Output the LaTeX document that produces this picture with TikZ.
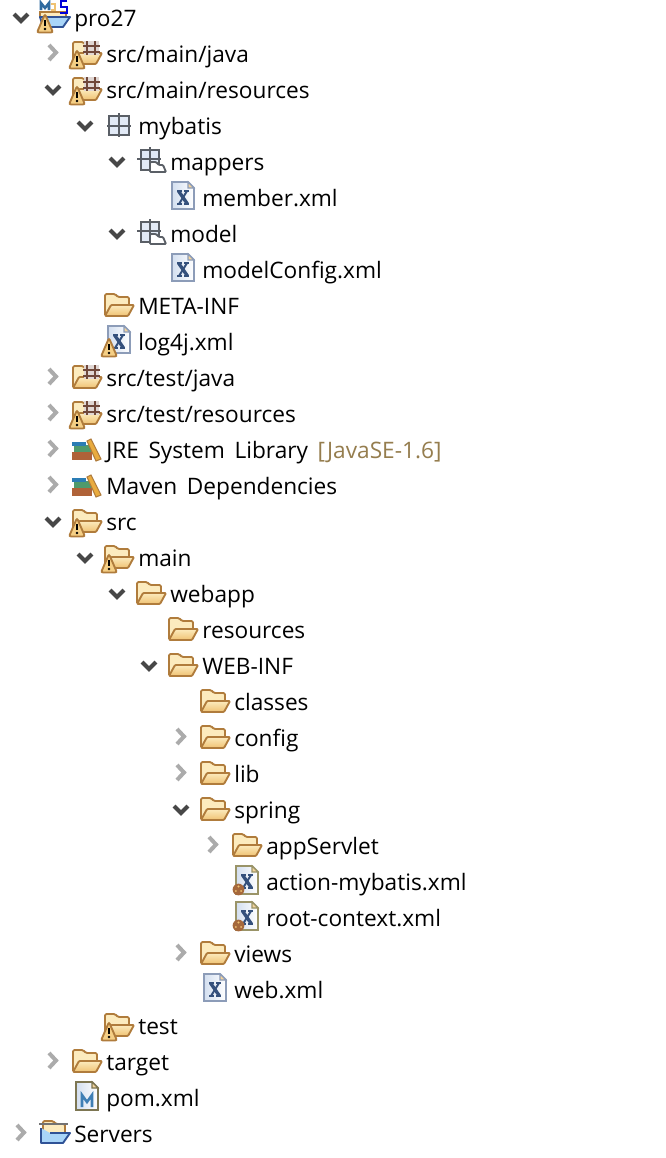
\documentclass[tikz,border=0pt]{standalone}
\usepackage{fontspec}
\setmainfont{Open Sans}
\definecolor{foldline}{HTML}{B07C3C}
\definecolor{foldlight}{HTML}{FCEBBE}
\definecolor{folddark}{HTML}{EFC272}
\definecolor{gridbrown}{HTML}{70483A}
\definecolor{warnfill}{HTML}{F5CF85}
\definecolor{pagefill}{HTML}{D3DFF0}
\definecolor{pageline}{HTML}{8C9CB8}
\definecolor{beanline}{HTML}{9A9468}
\definecolor{beanfill}{HTML}{A5683C}
\definecolor{pomline}{HTML}{7D7652}
\definecolor{pomblue}{HTML}{3F7FB5}
\definecolor{xblue}{HTML}{34507C}
\definecolor{pkgline}{HTML}{5A5F66}
\definecolor{pkgfill}{HTML}{E2EAF6}
\definecolor{jrever}{HTML}{957D4E}
\definecolor{bookred}{HTML}{AF6238}
\definecolor{bookgreen}{HTML}{4F9A6C}
\definecolor{bookblue}{HTML}{2B7DB5}
\definecolor{ruler}{HTML}{E9AB3E}
\definecolor{projfill}{HTML}{A9D5F8}
\definecolor{projline}{HTML}{2F5296}
\definecolor{mavenblue}{HTML}{2F6A9F}
\tikzset{
  rowtext/.style={anchor=base west,inner sep=0pt,font={\fontsize{17pt}{20pt}\selectfont\spaceskip=7.2pt\relax}},
  foldback/.style={draw=foldline,fill=foldlight,line width=1.4pt,rounded corners=1pt},
  foldfront/.style={draw=foldline,top color=foldlight,bottom color=folddark,line width=1.4pt,rounded corners=.7pt,line join=round},
  pageshape/.style={fill=white,left color=pagefill,right color=white,line width=1.4pt},
  togline/.style={line width=3pt,line join=miter},
  pics/tognone/.style={code={}},
  pics/togopen/.style={code={\draw[togline,color=black!72] (-7,-4) -- (0,3) -- (7,-4);}},
  pics/togclosed/.style={code={\draw[togline,color=black!33] (-4,-9) -- (3,-1.5) -- (-4,6);}},
  pics/warn/.style={code={
    \draw[draw=foldline,fill=warnfill,line width=1.4pt,rounded corners=1.6pt] (-11,-4) -- (-3,14.5) -- (-19,14.5) -- cycle;
    \draw[line width=1.7pt] (-11,2) -- (-11,8);
    \fill (-11,11) circle (1pt);}},
  pics/fold/.style={code={
    \draw[foldback] (-15,9) -- (-15,-12) -- (-5,-12) -- (-2,-9) -- (9,-9) -- (9,-1);
    \draw[foldfront] (-15,10) -- (-9,-1) -- (14,-1) -- (8,10) -- cycle;}},
  pics/foldw/.style={code={\pic {fold}; \pic {warn};}},
  pics/srcfold/.style={code={
    \pic {fold};
    \fill[gridbrown!22] (-4,-13) rectangle (11,1);
    \draw[gridbrown,line width=1.7pt] (-5,-8) -- (12,-8) (-5,-2) -- (12,-2) (-1,-13) -- (-1,1) (7,-13) -- (7,1);}},
  pics/srcfoldw/.style={code={\pic {srcfold}; \pic {warn};}},
  pics/pkg/.style={code={
    \draw[pkgline,fill=pkgfill,line width=1.9pt] (-11,-10) rectangle (9,9);
    \draw[pkgline,line width=1.5pt] (-13,-.5) -- (11,-.5) (-1,-13) -- (-1,11);}},
  pics/pkgfold/.style={code={
    \draw[pkgline,fill=pkgfill,line width=1.9pt] (-11,-12) rectangle (7,8);
    \draw[pkgline,line width=1.5pt] (-15,-3) -- (9,-3) (-2,-15) -- (-2,9);
    \draw[pkgline,fill=white,line width=1.4pt,rounded corners=.7pt] (-2,10) -- (-2,0) -- (4,0) -- (7,3) -- (11,3) -- (14,10) -- cycle;}},
  pics/xmark/.style={code={
    \draw[xblue,line width=2.5pt] (-5.5,-7) -- (3.5,6);
    \draw[xblue,line width=1.5pt] (3,-7) -- (-5,6);
    \draw[xblue,line width=.9pt] (-7,-7) -- (-2,-7) (0,-7) -- (5,-7) (-7,6) -- (-2,6) (0,6) -- (5,6);}},
  pics/xmlfile/.style={code={
    \draw[pageshape,draw=pageline] (-12,-16) -- (4,-16) -- (10,-10) -- (10,11) -- (-12,11) -- cycle;
    \draw[draw=pageline,fill=folddark!70,line width=.8pt] (4,-16) -- (4,-10) -- (10,-10) -- cycle;
    \pic {xmark};}},
  pics/xmlwarn/.style={code={\pic {xmlfile}; \pic {warn};}},
  pics/springxml/.style={code={
    \draw[pageshape,draw=beanline] (-12,-16) -- (4,-16) -- (10,-10) -- (10,12) -- (-12,12) -- cycle;
    \draw[draw=beanline,fill=folddark!70,line width=.8pt] (4,-16) -- (4,-10) -- (10,-10) -- cycle;
    \pic {xmark};
    \fill[beanfill] (-9.5,7.5) circle (4.4pt);
    \foreach \a in {30,150,270}
      {\fill[folddark] (-9.5,7.5) ++(\a:3) circle (.8pt);}}},
  pics/pom/.style={code={
    \draw[pageshape,draw=pomline] (-12,-16) -- (4,-16) -- (10,-10) -- (10,12) -- (-12,12) -- cycle;
    \draw[draw=pomline,fill=folddark!70,line width=.8pt] (4,-16) -- (4,-10) -- (10,-10) -- cycle;
    \draw[pomblue,line width=1.9pt,line join=miter] (-6,9) -- (-6,-3) -- (-1,4) -- (4,-3) -- (4,9);}},
  pics/lib/.style={code={
    \fill[bookred] (-16,2) rectangle (4,10);
    \fill[bookgreen] (-14,-5) rectangle (3,2);
    \fill[bookblue] (-16,-8) rectangle (-2,-4);
    \draw[foldline,fill=ruler,line width=.8pt] (-1,-9) -- (3,-11) -- (13,9) -- (8,11) -- cycle;}},
  pics/project/.style={code={
    \draw[foldline,fill=foldlight,line width=1.1pt] (-16,0) -- (-16,-6) -- (10,-6) -- (10,0);
    \draw[draw=projline,fill=projfill,line width=1.4pt,line join=round] (-16,-1) -- (14,-1) -- (7,9) -- (-13,9) -- cycle;
    \draw[mavenblue,line width=1.9pt,line join=miter] (-15,-8) -- (-15,-15) -- (-11,-10) -- (-7,-15) -- (-7,-8);
    \draw[folddark,line width=1.3pt] (-5,-14) -- (-1,-14) -- (-1,-8) -- (-5,-8);
    \draw[blue!85!black,line width=1.7pt,line join=miter] (11,-17) -- (5,-17) -- (5,-11) -- (11,-11) -- (11,-5) -- (4,-5);
    \pic {warn};}},
  pics/servers/.style={code={
    \draw[foldback] (-13,9) -- (-13,-13) -- (-3,-13) -- (0,-10) -- (9,-10) -- (9,-1);
    \draw[black!55,line width=1.4pt] (-17,-10) -- (12,-10);
    \draw[draw=projline,fill=projfill,line width=1.4pt,line join=round] (-6,-1) -- (14,-1) -- (7,9) -- (-15,9) -- (-15,-6);}},
}
\begin{document}
\begin{tikzpicture}[x=0.75pt,y=-0.75pt]
  \useasboundingbox[fill=white] (0,0) rectangle (666,1158);
  \foreach \lvl/\tog/\ico/\txt [count=\xi] in {
      0/togopen/project/{pro27},
      1/togclosed/srcfoldw/{src/main/java},
      1/togopen/srcfoldw/{src/main/resources},
      2/togopen/pkg/{mybatis},
      3/togopen/pkgfold/{mappers},
      4/tognone/xmlfile/{member.xml},
      3/togopen/pkgfold/{model},
      4/tognone/xmlfile/{modelConfig.xml},
      2/tognone/fold/{META-INF},
      2/tognone/xmlwarn/{log4j.xml},
      1/togclosed/srcfold/{src/test/java},
      1/togclosed/srcfoldw/{src/test/resources},
      1/togclosed/lib/{JRE System Library \textcolor{jrever}{[JavaSE-1.6]}},
      1/togclosed/lib/{Maven Dependencies},
      1/togopen/foldw/{src},
      2/togopen/foldw/{main},
      3/togopen/fold/{webapp},
      4/tognone/fold/{resources},
      4/togopen/fold/{WEB-INF},
      5/tognone/fold/{classes},
      5/togclosed/fold/{config},
      5/togclosed/fold/{lib},
      5/togopen/fold/{spring},
      6/togclosed/fold/{appServlet},
      6/tognone/springxml/{action-mybatis.xml},
      6/tognone/springxml/{root-context.xml},
      5/togclosed/fold/{views},
      5/tognone/xmlfile/{web.xml},
      2/tognone/foldw/{test},
      1/togclosed/fold/{target},
      1/tognone/pom/{pom.xml},
      0/togclosed/servers/{Servers}}
    {\pgfmathsetmacro{\rowx}{74+32*\lvl}
     \pgfmathsetmacro{\rowy}{36*\xi-18}
     \node[rowtext] (row\xi) at (\rowx,\rowy+8) {\txt};
     \pic (ico\xi) at (\rowx-18,\rowy) {\ico};
     \pic (tog\xi) at (\rowx-53,\rowy) {\tog};}
\end{tikzpicture}
\end{document}
